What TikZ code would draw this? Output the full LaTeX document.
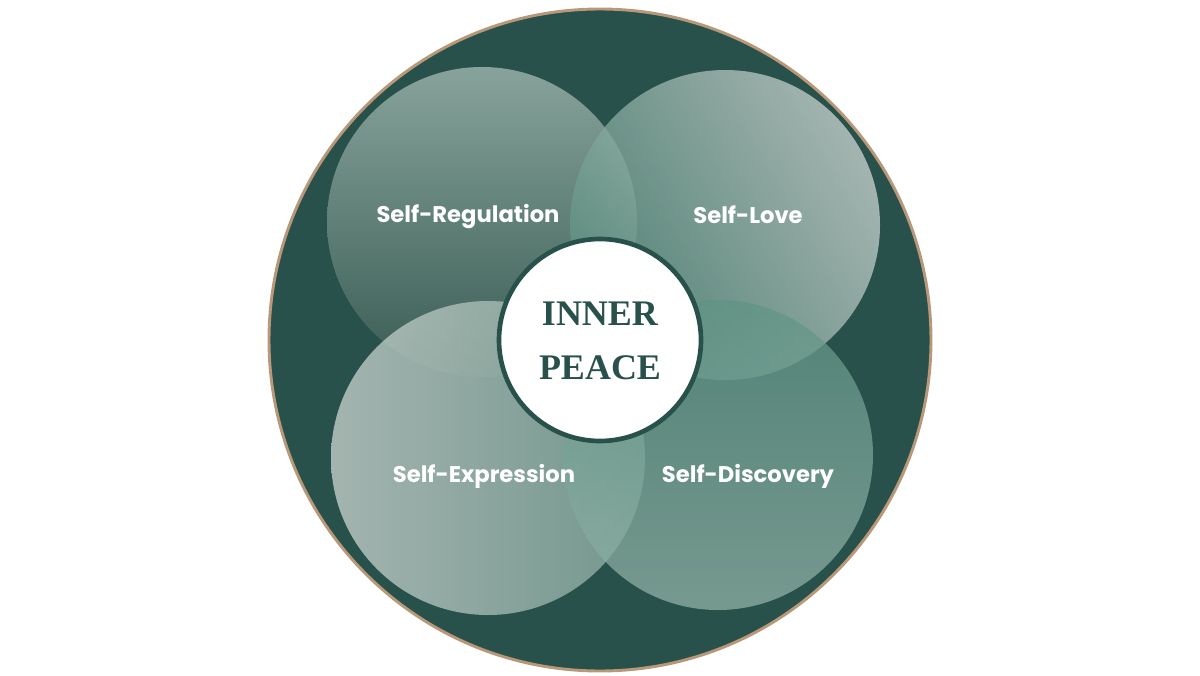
\documentclass[tikz,border=0pt]{standalone}
\usepackage{fontspec}
\setmainfont{Liberation Serif}
\newfontfamily\lblfont{Poppins}
\definecolor{deepteal}{RGB}{41,81,75}
\definecolor{tanring}{RGB}{184,152,120}
\definecolor{mistgreen}{RGB}{206,214,210}
\definecolor{sagegreen}{RGB}{96,148,133}
\tikzset{
  petal/.style={fill opacity=0.75, draw=none},
  petallabel/.style={text=white, font=\lblfont\bfseries\fontsize{17}{19}\selectfont, inner sep=0.75pt},
}
\begin{document}
\begin{tikzpicture}[x=0.75pt,y=0.75pt,yscale=-1,xscale=1]
\useasboundingbox (0,0) rectangle (1200,675);

%Shape: outer disc
\draw [draw=tanring, line width=2.2pt, fill=deepteal] (600,340) circle [radius=331];

%Shape: petals
\shade [petal, top color=mistgreen!65!sagegreen, bottom color=sagegreen!65!black] (482,222) circle [radius=155];
\shade [petal, left color=sagegreen, right color=mistgreen, shading angle=120] (725,225) circle [radius=155];
\shade [petal, shading angle=45, left color=mistgreen, right color=sagegreen!60!mistgreen] (488,458) circle [radius=157];
\shade [petal, top color=sagegreen, bottom color=sagegreen!55!mistgreen] (718,455) circle [radius=155];

%Shape: center
\draw [draw=deepteal, line width=3.5pt, fill=white] (600,340) circle [radius=101];

% Text Node
\node (core) [text=deepteal, align=center, font=\bfseries\fontsize{27}{40}\selectfont] at (600,341) {INNER\\PEACE};
% Text Node
\node (reg) [petallabel] at (468,217) {Self-Regulation};
% Text Node
\node (love) [petallabel] at (748,215) {Self-Love};
% Text Node
\node (expr) [petallabel] at (484,476) {Self-Expression};
% Text Node
\node (disc) [petallabel] at (748,476) {Self-Discovery};

\end{tikzpicture}
\end{document}
